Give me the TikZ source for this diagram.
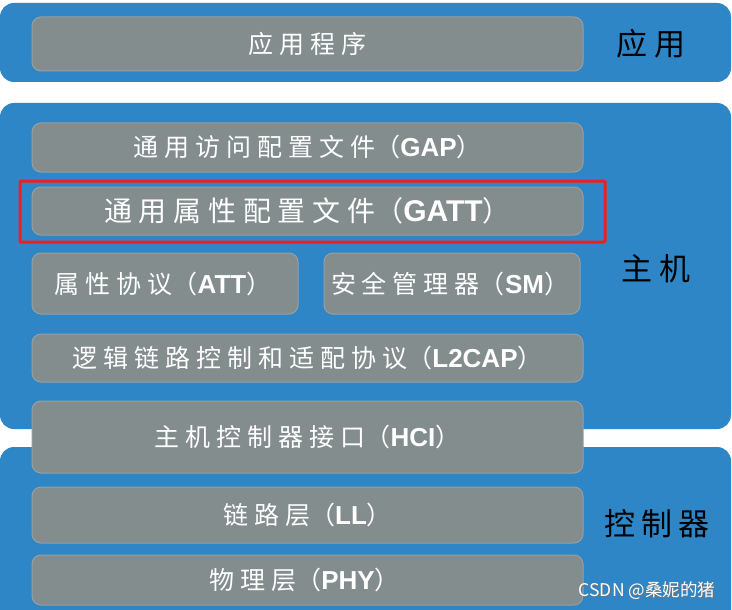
\documentclass[tikz,border=0pt]{standalone}
\usepackage{fontspec}
\newfontfamily\cjk{Noto Sans CJK SC}
\newfontfamily\cjksp{Noto Sans CJK SC}[LetterSpace=24]
\newfontfamily\cjklab{Noto Sans CJK SC}[LetterSpace=20]
\newfontfamily\latb{Liberation Sans}
\definecolor{panelblue}{RGB}{46,134,198}
\definecolor{boxgray}{RGB}{131,141,142}
\definecolor{boxedge}{RGB}{150,160,162}
\definecolor{framered}{RGB}{240,30,30}
% #1 CJK size, #2 Latin size, #3 Chinese, #4 Latin
\newcommand{\lbl}[4]{{\fontsize{#1}{#1}\selectfont\cjksp #3\cjk （{\fontsize{#2}{#2}\selectfont\latb\bfseries #4}）}}
\newcommand{\zhonly}[2]{{\fontsize{#1}{#1}\selectfont\cjksp #2}}
\tikzset{
  panel/.style={fill=panelblue, rounded corners=14pt, inner sep=0pt, minimum width=731pt},
  graybox/.style={fill=boxgray, draw=boxedge, line width=1pt, rounded corners=9pt, text=white, inner sep=0pt},
  fullbox/.style={graybox, minimum width=551pt},
  sidelabel/.style={text=black, inner sep=0pt, font=\fontsize{31}{31}\selectfont\cjklab},
  redframe/.style={draw=framered, line width=3pt, rounded corners=1pt, fill=none}
}
\begin{document}
\begin{tikzpicture}[x=1pt,y=-1pt]
\useasboundingbox (0,0) rectangle (732,610);
\clip (0,0) rectangle (732,610);
\fill[white] (0,0) rectangle (732,610);
% panels
\node (apppanel)  [panel, minimum height=79pt]  at (365.5,42.5) {};
\node (hostpanel) [panel, minimum height=326pt] at (365.5,266) {};
\node (ctrlpanel) [panel, minimum height=180pt] at (365.5,537) {};
% boxes
\node (app)   [fullbox, minimum height=54pt] at (307.5,44)    {\zhonly{25}{应用程序}};
\node (gap)   [fullbox, minimum height=49pt] at (307.5,147.5) {\lbl{25}{26}{通用访问配置文件}{GAP}};
\node (gatt)  [fullbox, minimum height=48pt] at (307.5,211)   {\lbl{28}{30}{通用属性配置文件}{GATT}};
\node (att)   [graybox, minimum width=266pt, minimum height=61pt] at (165,283.5) {\hspace*{-4pt}\lbl{25}{26}{属性协议}{ATT}};
\node (sm)    [graybox, minimum width=256pt, minimum height=61pt] at (452,283.5) {\hspace*{-4pt}\lbl{25}{26}{安全管理器}{SM}};
\node (l2cap) [fullbox, minimum height=48pt] at (307.5,358)   {\lbl{25}{26}{逻辑链路控制和适配协议}{L2CAP}};
\node (hci)   [fullbox, minimum height=72pt] at (307.5,437)   {\lbl{25}{26}{主机控制器接口}{HCI}};
\node (ll)    [fullbox, minimum height=56pt] at (307.5,515)   {\lbl{25}{26}{链路层}{LL}};
\node (phy)   [fullbox, minimum height=50pt] at (307.5,580)   {\hspace*{-6pt}\lbl{25}{26}{物理层}{PHY}};
% red highlight
\node (hl) [redframe, minimum width=585pt, minimum height=61pt] at (312.5,211.5) {};
% side labels
\node (lapp)  [sidelabel] at (651,44)  {应用};
\node (lhost) [sidelabel] at (656,269) {主机};
\node (lctrl) [sidelabel] at (657,524) {控制器};
% watermark
\node (wmshadow) [text=black!55, inner sep=0pt, font=\fontsize{17.5}{17.5}\selectfont\cjk] at (647.8,591.8) {CSDN @桑妮的猪};
\node (wm) [text=white, inner sep=0pt, font=\fontsize{17.5}{17.5}\selectfont\cjk] at (647,591) {CSDN @桑妮的猪};
\end{tikzpicture}
\end{document}
